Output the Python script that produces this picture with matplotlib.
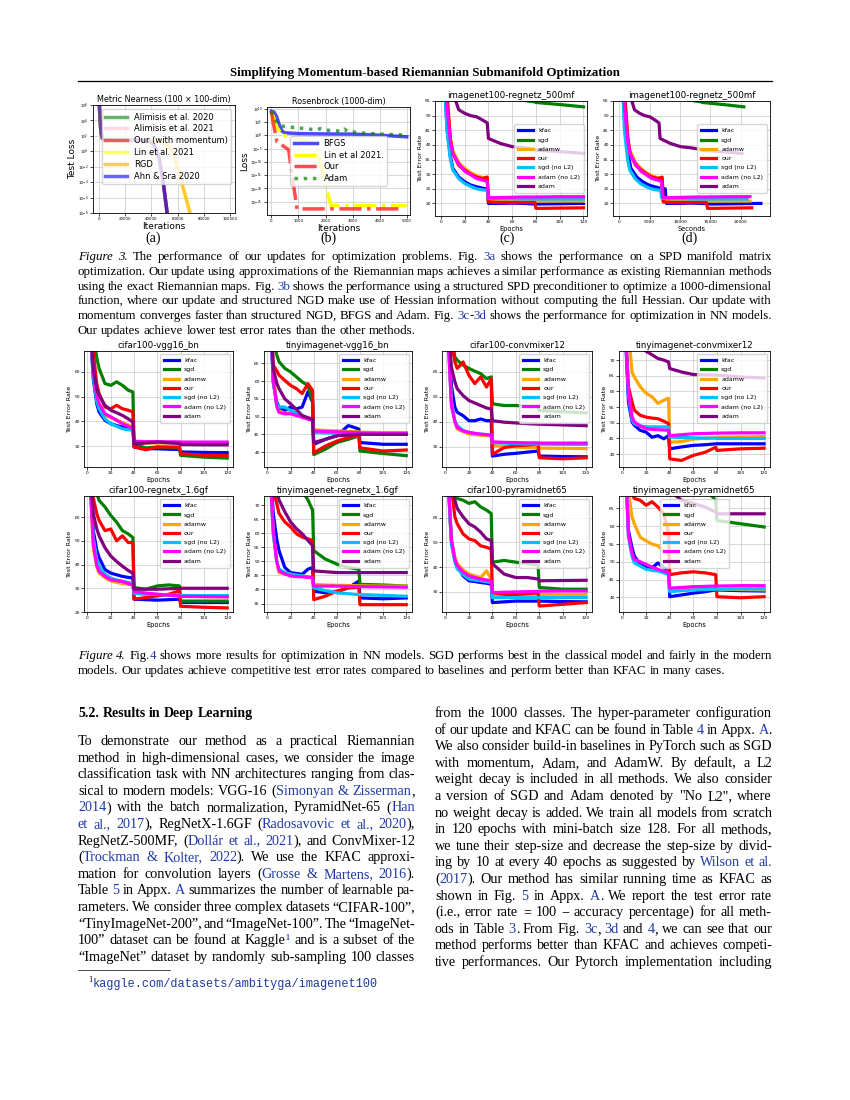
import matplotlib
matplotlib.use("Agg")
import matplotlib.pyplot as plt
from matplotlib.lines import Line2D
from matplotlib.ticker import NullLocator

# ===== data: Fig. 3a (metric nearness) =====
metric_iters_fast = [0, 800, 1500, 2500, 4000, 20000, 38000, 42000, 46000, 49000, 52000, 54000]
metric_loss_fast = [1e7, 1e4, 3e2, 50, 30, 28, 24, 8, 1e-1, 1e-4, 1e-8, 1e-10]
metric_iters_slow = [0, 800, 1500, 2500, 4000, 20000, 40000, 48000, 54000, 57000, 63000, 69500, 72000]
metric_loss_slow = [1e7, 1e4, 3e2, 50, 30, 28, 25, 20, 3, 0.5, 1e-4, 1e-8, 1e-10]
metric_names = ["Alimisis et al. 2020", "Alimisis et al. 2021", "Our (with momentum)",
                "Lin et al. 2021", "RGD", "Ahn & Sra 2020"]
metric_colors = ["green", "pink", "red", "yellow", "orange", "blue"]
metric_curve = ["fast", "fast", "fast", "slow", "slow", "fast"]

# ===== data: Fig. 3b (rosenbrock) =====
bfgs_it = [0, 100, 200, 300, 400, 500, 1000, 2000, 3000, 4000, 5000]
bfgs_loss = [1e9, 5e8, 8e6, 5e3, 30, 8, 4, 3, 2.5, 1.0, 0.25]
lin_it = [0, 100, 200, 400, 900, 1500, 1650, 2200, 5000]
lin_loss = [1e9, 1e6, 1e3, 1e0, 1e-1, 1e-3, 1e-4, 3e-27, 3e-27]
our_it = [0, 86, 209, 577, 639, 946, 4800]
our_loss = [1e9, 5e3, 3e-3, 1e-5, 3e-6, 2e-28, 2e-28]
adam_it = [0, 100, 200, 350, 1000, 1700, 1800, 1900, 2600, 2700, 2800, 3500, 5000]
adam_loss = [1e9, 1e7, 1e5, 3e3, 5e2, 1e2, 3e2, 1e2, 3e1, 2e2, 3e1, 5e0, 1e0]

# ===== data: NN test error rates =====
METHODS = ["kfac", "sgd", "adamw", "our", "sgd (no L2)", "adam (no L2)", "adam"]
COLORS = ["blue", "green", "orange", "red", "deepskyblue", "magenta", "purple"]
EPOCHS = [0, 5, 8, 10, 15, 20, 25, 30, 35, 39, 40, 50, 60, 70, 79, 80, 100, 120]

regnetz_imagenet = {
    "kfac":         [90, 46, 36, 32, 29, 27.4, 26.3, 25.7, 25.2, 25, 20, 20, 20.1, 20, 19.8, 19.8, 19.9, 20],
    "sgd":          [99, 90, 85, 80, 75, 70, 66, 62, 60, 58, 56.5, 56, 55.8, 55.2, 54.7, 54.5, 53.8, 53],
    "adamw":        [95, 55, 42, 38, 34, 32, 30.5, 29.5, 28.8, 28.5, 21.2, 21, 21, 21, 21, 20.8, 20.8, 20.8],
    "our":          [95, 58, 42, 37, 33, 31.4, 30, 29, 28.5, 29, 20.5, 20.3, 20.3, 20.3, 20.3, 18.3, 18.4, 18.5],
    "sgd (no L2)":  [90, 45, 35, 31.5, 28.5, 26.8, 25.8, 25, 24.6, 24.5, 21.8, 21.6, 21.6, 21.5, 21.5, 21.5, 21.5, 21.5],
    "adam (no L2)": [95, 53, 41, 37, 33.5, 31, 29.8, 28.5, 28, 27.5, 22, 22, 22.1, 22.2, 22.2, 22.2, 22.3, 22.3],
    "adam":         [99, 75, 62, 58, 52, 50.8, 50, 49.6, 48.5, 47.5, 42.2, 40.5, 39.4, 39, 38.5, 38.2, 37.7, 37.1],
}
# seconds at the end of training (Fig. 3d)
regnetz_seconds = {"kfac": 23300, "sgd": 20500, "adamw": 21500, "our": 21800,
                   "sgd (no L2)": 21000, "adam (no L2)": 21500, "adam": 20200}

vgg16_cifar = {
    "kfac":         [95, 57, 47, 43.8, 40.4, 39, 38.3, 37.7, 37.3, 37, 29.6, 28.9, 28.9, 28.7, 28.6, 27.6, 27.4, 27.3],
    "sgd":          [98, 75, 65.7, 61.4, 55.3, 54.6, 56, 54.6, 52.6, 51.9, 30.9, 29.2, 29.6, 29.4, 29.2, 26.2, 25.5, 25.1],
    "adamw":        [95, 60, 50, 46, 42.5, 41.5, 40.5, 39.5, 38.5, 37.5, 31.5, 31.3, 31.2, 31.2, 31.1, 31, 31, 31],
    "our":          [97, 68, 55, 51.2, 45.8, 45.1, 46.5, 45.1, 44.5, 43.8, 29.6, 28.5, 29.6, 29.6, 29.6, 26.9, 26.3, 26.2],
    "sgd (no L2)":  [95, 58, 48, 45.1, 41, 39, 38, 37, 36.6, 36.4, 31.6, 31.5, 31.5, 31.4, 31.4, 31.4, 31.4, 31.4],
    "adam (no L2)": [95, 60, 50, 47.2, 43.1, 41.8, 40.5, 39, 38, 37, 31.9, 31.8, 31.8, 31.7, 31.7, 31.6, 31.6, 31.6],
    "adam":         [96, 61.4, 53, 50.5, 46.5, 44.5, 43.5, 42.4, 41, 39.7, 30.9, 31.2, 31.6, 31.3, 31, 30.6, 30.5, 30.5],
}
vgg16_tiny = {
    "kfac":         [99, 59.8, 54.1, 52.7, 51.7, 52.7, 52.2, 52.7, 57, 54.1, 42.2, 43.6, 44.6, 47.5, 46.5, 42.7, 42.2, 42.2],
    "sgd":          [99, 72, 67.4, 65.5, 63.6, 62.6, 61.2, 59.8, 58.8, 54.1, 39.3, 40.8, 42.7, 43.6, 44.6, 40.3, 39.6, 39],
    "adamw":        [99, 62, 53, 51.5, 51, 51, 50.5, 50, 49.5, 49, 46.3, 46.1, 46, 45.8, 45.7, 45.6, 45.5, 45.5],
    "our":          [99, 64.5, 63, 61.7, 60.2, 58.8, 57.9, 56.5, 59.3, 57.4, 39.8, 41.7, 43.1, 44.1, 45, 41.2, 40.3, 40.6],
    "sgd (no L2)":  [99, 59.8, 53.6, 52.7, 52.7, 51.7, 51, 50.3, 49.5, 48.9, 45.5, 45.4, 45.3, 45.2, 45.1, 45, 45, 45],
    "adam (no L2)": [99, 60.3, 53, 51.2, 50.8, 50.8, 50.3, 49.8, 49.3, 48.9, 46, 45.8, 45.7, 45.6, 45.5, 45.4, 45.3, 45.3],
    "adam":         [99, 63.6, 59.5, 57.9, 55, 53.6, 52, 50.3, 49.7, 49.3, 42.7, 43.6, 44.6, 44.8, 45, 45, 45, 45],
}
convmixer_cifar = {
    "kfac":         [95, 54.6, 45.8, 43.8, 42.4, 40.4, 40.4, 41.1, 40.4, 40.4, 26.2, 26.9, 27.3, 27.8, 28.2, 26.2, 26, 25.9],
    "sgd":          [98, 75, 66, 64.7, 62.7, 61.4, 60.3, 59.3, 57.3, 58, 47.2, 46.5, 46.5, 46.2, 46, 44.5, 44, 43.5],
    "adamw":        [95, 48, 40, 37, 36, 35, 34.8, 34.6, 34.4, 34.3, 30.5, 30, 29.8, 29.6, 29.5, 29.4, 29.3, 29.2],
    "our":          [97, 72, 64, 61.4, 64, 58.6, 55.3, 58, 53.9, 57.3, 26.9, 29.6, 30.3, 30.6, 30.9, 25.5, 25.1, 25.5],
    "sgd (no L2)":  [95, 47.8, 40.5, 38.4, 36.5, 35.7, 35.3, 35, 34.8, 34.6, 31.6, 31.4, 31.2, 31.1, 31, 31, 30.9, 30.9],
    "adam (no L2)": [95, 46.5, 40, 37.7, 36.3, 35.7, 35.3, 35, 34.8, 34.6, 31.9, 31.7, 31.6, 31.5, 31.5, 31.4, 31.4, 31.4],
    "adam":         [96, 62, 56, 53.2, 50.5, 48.5, 47.5, 46.5, 45.5, 45.1, 40.4, 39.8, 39.5, 39.2, 39, 39, 38.7, 38.4],
}
convmixer_tiny = {
    "kfac":         [99, 56.7, 50.3, 49.2, 47.6, 47, 45.4, 45.9, 44.9, 45.9, 41.7, 42.3, 42.8, 43, 43.3, 43.3, 43.3, 43.3],
    "sgd":          [99.5, 95, 92, 90, 88, 86, 85, 84, 83, 82, 78, 77.5, 77, 77, 76.5, 76, 76, 75.5],
    "adamw":        [99, 80, 66.2, 64.6, 61.5, 59.4, 58.3, 56.2, 57.2, 57.8, 43.8, 44, 44.8, 45.1, 45.3, 45.4, 45.5, 45.6],
    "our":          [99, 61.5, 56.7, 54, 52.4, 51.8, 51.5, 51.3, 50.5, 49.7, 38.5, 38, 39.6, 40.6, 42.2, 41.2, 41.7, 41.9],
    "sgd (no L2)":  [99, 58.9, 51, 49.7, 49, 48.7, 48.7, 48.7, 48.7, 48.7, 45.4, 45.3, 45.2, 45.1, 45.1, 45, 45, 45],
    "adam (no L2)": [99, 59.9, 52, 50.3, 49, 48.1, 47.9, 47.8, 47.7, 47.6, 45.9, 46.2, 46.5, 46.6, 46.7, 46.7, 46.8, 46.8],
    "adam":         [99.5, 90, 82, 79, 75, 72.8, 71.7, 70.5, 70, 69.4, 67.3, 66.2, 65.4, 65.3, 65.2, 65.2, 64.6, 64.3],
}
regnetx_cifar = {
    "kfac":         [95, 54.3, 46, 42.9, 37.9, 36.4, 35.7, 35, 34.6, 34.3, 25.4, 25.2, 25, 25.2, 25.4, 24, 24, 24],
    "sgd":          [98, 80, 70, 67, 64.3, 60.7, 57.9, 54.3, 52.9, 51.4, 30.3, 29.6, 31, 31.4, 31, 24.6, 24.6, 24.6],
    "adamw":        [95, 47.1, 39, 36.4, 34.5, 33.1, 32.5, 32, 31.7, 31.4, 27.9, 27.5, 27.2, 27, 26.8, 26.6, 26.5, 26.4],
    "our":          [97, 68, 61.4, 58.6, 54.3, 55, 50, 52.1, 49.3, 49.3, 25.4, 26.1, 26.8, 27.5, 28.9, 22.4, 22, 21.7],
    "sgd (no L2)":  [95, 51.4, 42, 39.3, 36, 34.3, 33.5, 32.9, 32.4, 32.1, 27.9, 27.6, 27.4, 27.2, 27.1, 27, 26.9, 26.9],
    "adam (no L2)": [95, 48.6, 39.5, 37.1, 35, 33.6, 33.2, 32.9, 32, 31.4, 28.6, 28, 27.5, 27.1, 26.8, 26.6, 26.5, 26.4],
    "adam":         [96, 61.4, 55, 52.1, 47.1, 43.6, 41.3, 39.3, 37.5, 36.4, 29.6, 29.6, 29.6, 29.8, 29.9, 30, 30, 30],
}
regnetx_tiny = {
    "kfac":         [99, 67, 58, 53.8, 47.8, 46, 45.7, 45.4, 47.2, 47.8, 39.4, 38.8, 39.2, 40.6, 43, 37, 36.7, 37],
    "sgd":          [99.5, 90, 85, 82, 80, 78, 76, 75, 71.8, 68.2, 53.8, 50.8, 49, 47.8, 47.2, 41.8, 41.6, 41.2],
    "adamw":        [99, 60, 50, 46, 45.5, 45.4, 45, 44.8, 44.5, 44.2, 41.8, 41.6, 41.5, 41.4, 41.3, 41.3, 41.2, 41.2],
    "our":          [99, 75, 70.6, 67, 64, 62.2, 59.8, 58.6, 58, 57.4, 36.4, 37.6, 39.4, 40.6, 40.8, 34.6, 34.6, 34.6],
    "sgd (no L2)":  [99, 59.8, 50, 47.2, 46, 45.4, 45.1, 44.8, 44.5, 44.2, 40.6, 39.6, 38.8, 38.5, 38.2, 38.2, 37.9, 37.6],
    "adam (no L2)": [99, 61, 50, 46.6, 45.5, 44.8, 44.6, 44.5, 44.3, 44.2, 41.2, 41.2, 41.2, 41.1, 41, 41, 40.9, 40.8],
    "adam":         [99.5, 85, 75, 71.8, 67.6, 64, 61.6, 59.8, 57.4, 55.6, 46.6, 46.3, 46, 46, 46, 46, 46, 46],
}
pyramid_cifar = {
    "kfac":         [95, 50.7, 43, 40.7, 36.5, 34.5, 34.2, 33.8, 33.5, 33.1, 25.7, 26, 26.3, 26.3, 26.3, 26.3, 26.1, 26],
    "sgd":          [98, 75, 69, 67.7, 67, 65.7, 66.4, 64.3, 63, 61.6, 42, 42.7, 42, 41.4, 40.7, 31.8, 31.1, 31.1],
    "adamw":        [95, 50, 44, 41.4, 39, 37.2, 36.5, 35.8, 38.5, 35.2, 29, 29, 29, 29, 29, 29, 29, 29],
    "our":          [97, 72, 60.3, 57.5, 53.4, 51.4, 50.7, 48.6, 48, 47.3, 29.7, 29, 29, 29.3, 29.7, 24.3, 25, 25.7],
    "sgd (no L2)":  [95, 49.3, 42, 39.3, 37, 35.2, 34.8, 34.5, 34.1, 33.8, 27.7, 27.7, 27.7, 27.7, 27.7, 27.7, 27.7, 27.7],
    "adam (no L2)": [95, 51.4, 43, 40.7, 38, 36.5, 35.8, 35.2, 34.8, 34.5, 29.7, 29.9, 30, 30.1, 30.2, 30.3, 30.4, 30.4],
    "adam":         [96, 75, 67, 63.7, 60.3, 57.5, 56.2, 54.1, 51.4, 50.7, 41.4, 37.2, 35.8, 35.8, 35.2, 34.5, 34.6, 34.7],
}
pyramid_tiny = {
    "kfac":         [99, 58.8, 54, 51.6, 49.3, 48.3, 48.3, 49.7, 48.3, 47.9, 40.2, 40.7, 41.2, 41.6, 42.1, 42.1, 41.9, 41.8],
    "sgd":          [99.5, 92, 88, 86, 84, 82, 80, 78, 76, 75, 73, 72, 71, 70.5, 67.3, 61.6, 60.7, 59.8],
    "adamw":        [99, 70, 62.6, 60.7, 56.9, 55.9, 55, 54.5, 53, 52.5, 42.1, 42.5, 43, 42.8, 42.5, 42.3, 42.2, 42.1],
    "our":          [99.5, 72, 69, 67.8, 67.3, 65.9, 66.9, 65.4, 63.5, 58, 46.4, 46.9, 47.2, 46.9, 46.4, 40.2, 39.9, 40.2],
    "sgd (no L2)":  [99, 56.9, 51.5, 49.7, 48.8, 47.9, 47.6, 47.4, 46.9, 46.4, 41.6, 41.9, 42.1, 42.2, 42.3, 42.3, 42.4, 42.4],
    "adam (no L2)": [99, 57.8, 52.5, 50.7, 50, 49.3, 48.5, 47.9, 47.4, 46.9, 42.6, 42.8, 43, 43.1, 43.2, 43.2, 43.3, 43.3],
    "adam":         [99.5, 92, 88, 86, 83, 80, 78, 76, 74, 73, 70, 67.3, 66.4, 65.4, 64, 63.5, 63.5, 63.5],
}

# ===== page text =====
page_title = "Simplifying Momentum-based Riemannian Submanifold Optimization"
fig3_caption = [
    "|Figure 3.| The performance of our updates for optimization problems.  Fig. {3a} shows the performance on a SPD manifold matrix",
    "optimization. Our update using approximations of the Riemannian maps achieves a similar performance as existing Riemannian methods",
    "using the exact Riemannian maps. Fig. {3b} shows the performance using a structured SPD preconditioner to optimize a 1000-dimensional",
    "function, where our update and structured NGD make use of Hessian information without computing the full Hessian. Our update with",
    "momentum converges faster than structured NGD, BFGS and Adam. Fig. {3c}-{3d} shows the performance for optimization in NN models.",
    "Our updates achieve lower test error rates than the other methods.",
]
fig4_caption = [
    "|Figure 4.| Fig.{4} shows more results for optimization in NN models. SGD performs best in the classical model and fairly in the modern",
    "models. Our updates achieve competitive test error rates compared to baselines and perform better than KFAC in many cases.",
]
section_title = "5.2. Results in Deep Learning"
left_col = [
    "To demonstrate our method as a practical Riemannian",
    "method in high-dimensional cases, we consider the image",
    "classification task with NN architectures ranging from clas-",
    "sical to modern models: VGG-16 ({Simonyan & Zisserman},",
    "{2014}) with the batch normalization, PyramidNet-65 ({Han}",
    "{et al., 2017}), RegNetX-1.6GF ({Radosavovic et al., 2020}),",
    "RegNetZ-500MF, ({Dollár et al., 2021}), and ConvMixer-12",
    "({Trockman & Kolter, 2022}). We use the KFAC approxi-",
    "mation for convolution layers ({Grosse & Martens, 2016}).",
    "Table {5} in Appx. {A} summarizes the number of learnable pa-",
    "rameters. We consider three complex datasets “CIFAR-100”,",
    "“TinyImageNet-200”, and “ImageNet-100”. The “ImageNet-",
    "100” dataset can be found at Kaggle{¹} and is a subset of the",
    "“ImageNet” dataset by randomly sub-sampling 100 classes",
]
right_col = [
    "from the 1000 classes. The hyper-parameter configuration",
    "of our update and KFAC can be found in Table {4} in Appx. {A}.",
    "We also consider build-in baselines in PyTorch such as SGD",
    "with momentum, Adam, and AdamW. By default, a L2",
    "weight decay is included in all methods. We also consider",
    "a version of SGD and Adam denoted by \"No L2\", where",
    "no weight decay is added. We train all models from scratch",
    "in 120 epochs with mini-batch size 128. For all methods,",
    "we tune their step-size and decrease the step-size by divid-",
    "ing by 10 at every 40 epochs as suggested by {Wilson et al.}",
    "({2017}). Our method has similar running time as KFAC as",
    "shown in Fig. {5} in Appx. {A}. We report the test error rate",
    "(i.e., error rate = 100 − accuracy percentage) for all meth-",
    "ods in Table {3}. From Fig. {3c}, {3d} and {4}, we can see that our",
    "method performs better than KFAC and achieves competi-",
    "tive performances. Our Pytorch implementation including",
]
footnote_url = "kaggle.com/datasets/ambityga/imagenet100"

W, H = 850, 1100
SERIF = "Liberation Serif"
BLUE = "#1f3aa5"
CAPTION_SIZE = 9.3
BODY_SIZE = 10.2

fig = plt.figure(figsize=(W / 100, H / 100), dpi=100)
renderer = fig.canvas.get_renderer()


def rect(x0, y0, x1, y1):
    return [x0 / W, 1 - y1 / H, (x1 - x0) / W, (y1 - y0) / H]


def parse_words(line):
    # {..} = blue link text, |..| = italic
    words, cur = [], []
    state = {"buf": "", "blue": False, "ital": False}

    def flush():
        if state["buf"]:
            cur.append((state["buf"], state["blue"], state["ital"]))
            state["buf"] = ""

    for ch in line:
        if ch in "{}":
            flush()
            state["blue"] = ch == "{"
        elif ch == "|":
            flush()
            state["ital"] = not state["ital"]
        elif ch == " ":
            flush()
            if cur:
                words.append(cur)
                cur = []
        else:
            state["buf"] += ch
    flush()
    if cur:
        words.append(cur)
    return words


def text_line(line, x0, x1, y, size, justify=True, bold=False):
    items, total = [], 0.0
    for word in parse_words(line):
        parts = []
        for s, blue, ital in word:
            t = fig.text(0, 0, s, fontsize=size, family=SERIF,
                         color=BLUE if blue else "black",
                         style="italic" if ital else "normal",
                         weight="bold" if bold else "normal",
                         ha="left", va="baseline")
            wd = t.get_window_extent(renderer).width
            parts.append((t, wd))
            total += wd
        items.append(parts)
    if justify and len(items) > 1:
        gap = (x1 - x0 - total) / (len(items) - 1)
    else:
        gap = size * 0.25 * 100 / 72
    x = x0
    for parts in items:
        for t, wd in parts:
            t.set_position((x / W, 1 - y / H))
            x += wd
        x += gap


def style_axes(ax, tick=3.2):
    ax.grid(True, color="#c8c8c8", lw=0.5)
    ax.set_axisbelow(True)
    ax.tick_params(labelsize=tick, length=2, width=0.5, pad=1)
    for sp in ax.spines.values():
        sp.set_linewidth(0.6)


def nn_plot(box, title, data, ylim, yticks, xs=None, xlabel="Epochs",
            loc="upper right", xlim=(-3, 125), xticks=range(0, 121, 20)):
    ax = fig.add_axes(rect(*box))
    for m, c in zip(METHODS, COLORS):
        x = xs[m] if xs is not None else EPOCHS
        ax.plot(x, data[m], color=c, lw=2.3, label=m)
    ax.set_xlim(*xlim)
    ax.set_ylim(*ylim)
    ax.set_xticks(list(xticks))
    ax.set_yticks(yticks)
    style_axes(ax)
    ax.set_title(title, fontsize=6.3, pad=2)
    ax.set_xlabel(xlabel, fontsize=4.8, labelpad=1)
    ax.set_ylabel("Test Error Rate", fontsize=4.6, labelpad=1.5)
    ax.legend(loc=loc, fontsize=4.5, handlelength=2.3, borderpad=0.6,
              labelspacing=0.62, handletextpad=0.9)
    return ax


# ===== header =====
fig.text(425 / W, 1 - 76 / H, page_title, ha="center", va="baseline",
         fontsize=9.4, weight="bold", family=SERIF)
fig.add_artist(Line2D([78 / W, 772 / W], [1 - 81 / H] * 2, lw=0.9, color="black"))

# ===== Fig. 3a =====
ax = fig.add_axes(rect(93, 105, 235, 213))
for name, col, kind in zip(metric_names, metric_colors, metric_curve):
    xs = metric_iters_fast if kind == "fast" else metric_iters_slow
    ys = metric_loss_fast if kind == "fast" else metric_loss_slow
    ax.plot(xs, ys, color=col, lw=2.5, alpha=0.6, label=name)
ax.set_yscale("log")
ax.set_ylim(1e-8, 1e6)
ax.set_xlim(-4600, 103800)
ax.set_yticks([10.0 ** k for k in range(-8, 7, 2)])
ax.yaxis.set_minor_locator(NullLocator())
ax.set_xticks(range(0, 100001, 20000))
style_axes(ax, tick=2.8)
ax.set_title("Metric Nearness (100 × 100-dim)", fontsize=5.8, pad=2)
ax.set_xlabel("Iterations", fontsize=6.5, labelpad=0.5)
ax.set_ylabel("Test Loss", fontsize=6.5, labelpad=1)
ax.legend(loc="upper right", fontsize=6, handlelength=2.6, labelspacing=0.35,
          borderpad=0.4)

# ===== Fig. 3b =====
ax = fig.add_axes(rect(267, 107, 410, 215))
ax.plot(bfgs_it, bfgs_loss, color="blue", lw=2.5, alpha=0.7, label="BFGS")
ax.plot(lin_it, lin_loss, color="yellow", lw=2.5, ls="-.", label="Lin et al 2021.")
ax.plot(our_it, our_loss, color="red", lw=2.5, ls="-.", alpha=0.7, label="Our")
ax.plot(adam_it, adam_loss, color="green", lw=2.5, ls=":", alpha=0.7, label="Adam")
ax.set_yscale("log")
ax.set_ylim(1e-30, 4e10)
ax.set_xlim(-160, 5120)
ax.set_yticks([10.0 ** k for k in range(-25, 11, 5)])
ax.yaxis.set_minor_locator(NullLocator())
ax.set_xticks(range(0, 5001, 1000))
style_axes(ax, tick=2.8)
ax.set_title("Rosenbrock (1000-dim)", fontsize=5.8, pad=2)
ax.set_xlabel("Iterations", fontsize=6.5, labelpad=0.5)
ax.set_ylabel("Loss", fontsize=6.5, labelpad=1)
ax.legend(loc="center", fontsize=6, handlelength=2.8, labelspacing=0.3,
          borderpad=0.4)

# ===== Fig. 3c / 3d =====
nn_plot((435, 101, 587, 216), "imagenet100-regnetz_500mf", regnetz_imagenet,
        (15.7, 55), range(20, 56, 5), loc="center right", xlim=(-5, 123))
sec_x = {m: [e / 120 * regnetz_seconds[m] for e in EPOCHS] for m in METHODS}
nn_plot((613, 101, 770, 216), "imagenet100-regnetz_500mf", regnetz_imagenet,
        (15.7, 55), range(20, 56, 5), xs=sec_x, xlabel="Seconds",
        loc="center right", xlim=(-1000, 24800), xticks=range(0, 20001, 5000))

for lab, xc in zip(["(a)", "(b)", "(c)", "(d)"], [153, 328, 507, 690]):
    fig.text(xc / W, 1 - 242 / H, lab, ha="center", va="baseline",
             fontsize=10, family=SERIF)

for i, line in enumerate(fig3_caption):
    text_line(line, 78, 772, 260 + 14.8 * i, CAPTION_SIZE,
              justify=i < len(fig3_caption) - 1)

# ===== Fig. 4 =====
cols = [(84, 233), (264, 412), (442, 592), (619, 770)]
rows = [(351, 467), (496, 612)]
grid = [
    ("cifar100-vgg16_bn", vgg16_cifar, (21.5, 68.5), range(30, 61, 10), "upper right"),
    ("tinyimagenet-vgg16_bn", vgg16_tiny, (35.8, 68.5), range(40, 66, 5), "upper right"),
    ("cifar100-convmixer12", convmixer_cifar, (21.8, 68.4), range(30, 61, 10), "upper right"),
    ("tinyimagenet-convmixer12", convmixer_tiny, (35.9, 72.9), range(40, 71, 5), "upper right"),
    ("cifar100-regnetx_1.6gf", regnetx_cifar, (20, 68.9), range(20, 61, 10), "upper right"),
    ("tinyimagenet-regnetx_1.6gf", regnetx_tiny, (32, 73.2), range(35, 71, 5), "upper right"),
    ("cifar100-pyramidnet65", pyramid_cifar, (21.9, 68.7), range(30, 61, 10), "upper right"),
    ("tinyimagenet-pyramidnet65", pyramid_tiny, (35.9, 68.5), range(40, 66, 5), "upper center"),
]
for k, (title, data, ylim, yt, loc) in enumerate(grid):
    r, c = divmod(k, 4)
    box = (cols[c][0], rows[r][0], cols[c][1], rows[r][1])
    nn_plot(box, title, data, ylim, list(yt), loc=loc)

for i, line in enumerate(fig4_caption):
    text_line(line, 78, 772, 659 + 14.8 * i, CAPTION_SIZE, justify=i == 0)

# ===== section 5.2 =====
text_line(section_title, 78, 415, 717, 10, justify=False, bold=True)
for i, line in enumerate(left_col):
    text_line(line, 78, 415, 745 + 16.6 * i, BODY_SIZE)
for i, line in enumerate(right_col):
    text_line(line, 435, 772, 717 + 16.6 * i, BODY_SIZE)

# footnote
fig.add_artist(Line2D([78 / W, 170 / W], [1 - 970 / H] * 2, lw=0.5, color="black"))
fig.text(88 / W, 1 - 982 / H, "1", fontsize=6, family=SERIF, va="baseline")
fig.text(93 / W, 1 - 987 / H, footnote_url, fontsize=8.6, family="Liberation Mono",
         color=BLUE, va="baseline")

fig.savefig("out.png", dpi=100)
